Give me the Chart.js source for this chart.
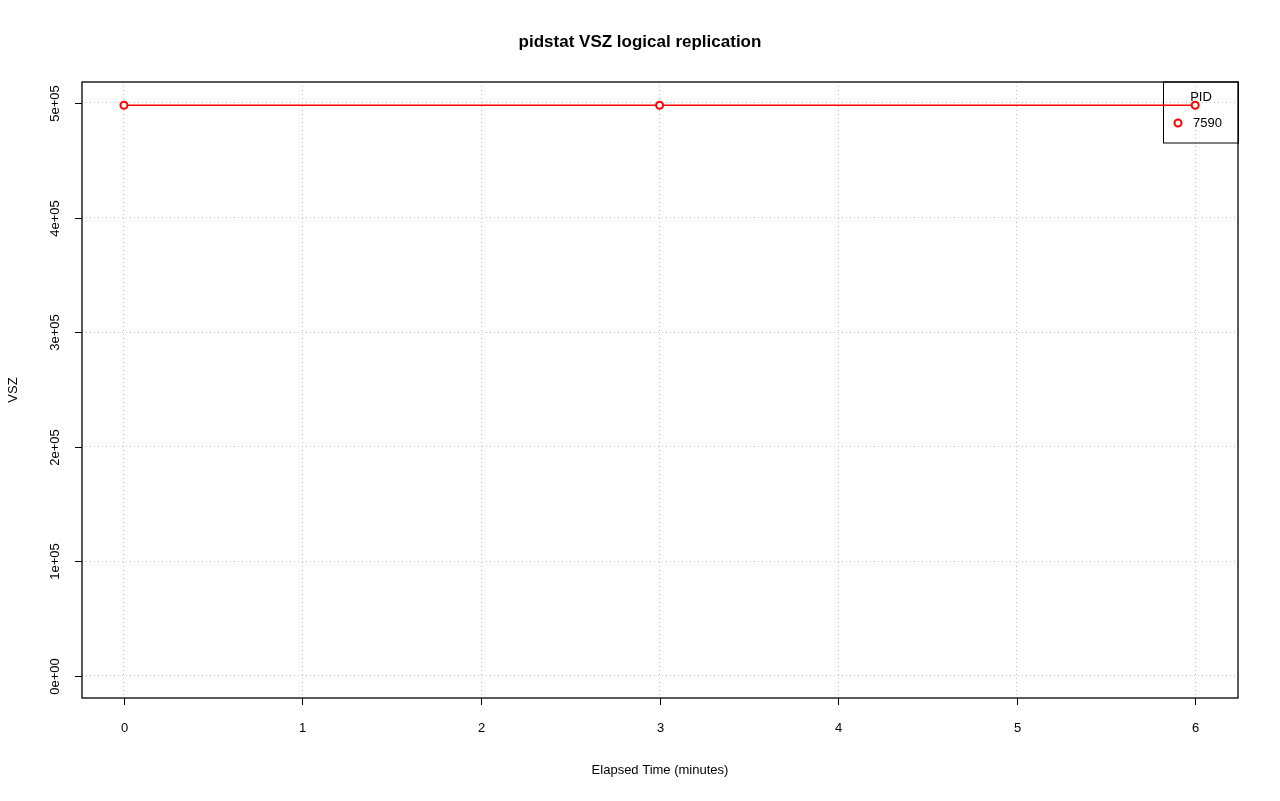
<!DOCTYPE html>
<html>
<head>
<meta charset="utf-8">
<script src="https://cdn.jsdelivr.net/npm/chart.js@4.4.0/dist/chart.umd.min.js"></script>
<style>
  body { margin: 0; background: #fff; }
  canvas { display: block; }
</style>
</head>
<body>
<canvas id="c" width="1280" height="801"></canvas>
<script>
// data
const minutes = [0, 3, 6]
const vsz = [498000, 498000, 498000]
const xTicks = [0, 1, 2, 3, 4, 5, 6]
const yTicks = [0, 100000, 200000, 300000, 400000, 500000]
const yTickLabels = ['0e+00', '1e+05', '2e+05', '3e+05', '4e+05', '5e+05']
const pidLabel = '7590'

const FONT = '"Liberation Sans", Arial, sans-serif'

// frame, ticks, titles and legend drawn R-style
const rStyle = {
    id: 'rStyle',
    afterDraw(chart) {
        const ctx = chart.ctx
        const a = chart.chartArea
        const xs = chart.scales.x, ys = chart.scales.y
        ctx.save()
        ctx.strokeStyle = '#000'
        ctx.lineWidth = 1.3
        ctx.strokeRect(a.left, a.top, a.right - a.left, a.bottom - a.top)

        ctx.fillStyle = '#000'
        ctx.font = '13px ' + FONT
        ctx.lineWidth = 1
        ctx.textAlign = 'center'
        ctx.textBaseline = 'middle'
        xTicks.forEach(v => {
            const px = Math.round(xs.getPixelForValue(v)) + 0.5
            ctx.beginPath(); ctx.moveTo(px, a.bottom); ctx.lineTo(px, a.bottom + 7); ctx.stroke()
            ctx.fillText(String(v), px, a.bottom + 30)
        })
        yTicks.forEach((v, i) => {
            const py = Math.round(ys.getPixelForValue(v)) + 0.5
            ctx.beginPath(); ctx.moveTo(a.left, py); ctx.lineTo(a.left - 7, py); ctx.stroke()
            ctx.save()
            ctx.translate(a.left - 27, py)
            ctx.rotate(-Math.PI / 2)
            ctx.fillText(yTickLabels[i], 0, 0)
            ctx.restore()
        })
        ctx.fillText('Elapsed Time (minutes)', (a.left + a.right) / 2, 770)
        ctx.save()
        ctx.translate(13, (a.top + a.bottom) / 2)
        ctx.rotate(-Math.PI / 2)
        ctx.fillText('VSZ', 0, 0)
        ctx.restore()
        ctx.font = 'bold 17px ' + FONT
        ctx.fillText('pidstat VSZ logical replication', 640, 42)
        ctx.restore()
    },
    // legend sits under the data in the reference
    beforeDatasetsDraw(chart) {
        const ctx = chart.ctx
        const a = chart.chartArea
        const lx = 1163, ly = a.top, lw = a.right - lx, lh = 61
        ctx.save()
        ctx.strokeStyle = '#000'
        ctx.lineWidth = 1
        ctx.strokeRect(lx + 0.5, ly, lw, lh)
        ctx.fillStyle = '#000'
        ctx.font = '13px ' + FONT
        ctx.textAlign = 'center'
        ctx.textBaseline = 'middle'
        ctx.fillText('PID', 1201, 97)
        ctx.textAlign = 'left'
        ctx.fillText(pidLabel, 1193, 123)
        ctx.strokeStyle = '#ff0000'
        ctx.lineWidth = 2
        ctx.beginPath(); ctx.arc(1178, 123, 3.5, 0, Math.PI * 2); ctx.stroke()
        ctx.restore()
    }
}

new Chart(document.getElementById('c'), {
    type: 'line',
    data: {
        datasets: [{
            data: minutes.map((m, i) => ({ x: m, y: vsz[i] })),
            borderColor: '#ff0000',
            borderWidth: 1.5,
            pointRadius: 3.5,
            pointBorderWidth: 2,
            pointBorderColor: '#ff0000',
            pointBackgroundColor: '#ffffff',
            tension: 0
        }]
    },
    options: {
        responsive: false,
        devicePixelRatio: 1,
        animation: false,
        layout: { padding: { left: 82, right: 42, top: 82, bottom: 103 } },
        plugins: { legend: { display: false }, tooltip: { enabled: false } },
        scales: {
            x: {
                type: 'linear', min: -0.235, max: 6.24,
                afterBuildTicks: s => { s.ticks = xTicks.map(v => ({ value: v })) },
                ticks: { display: false },
                border: { display: false, dash: [1, 3] },
                grid: { color: '#bebebe', lineWidth: 1, drawTicks: false }
            },
            y: {
                type: 'linear', min: -19200, max: 518300,
                afterBuildTicks: s => { s.ticks = yTicks.map(v => ({ value: v })) },
                ticks: { display: false },
                border: { display: false, dash: [1, 3] },
                grid: { color: '#bebebe', lineWidth: 1, drawTicks: false }
            }
        }
    },
    plugins: [rStyle]
})
</script>
</body>
</html>
